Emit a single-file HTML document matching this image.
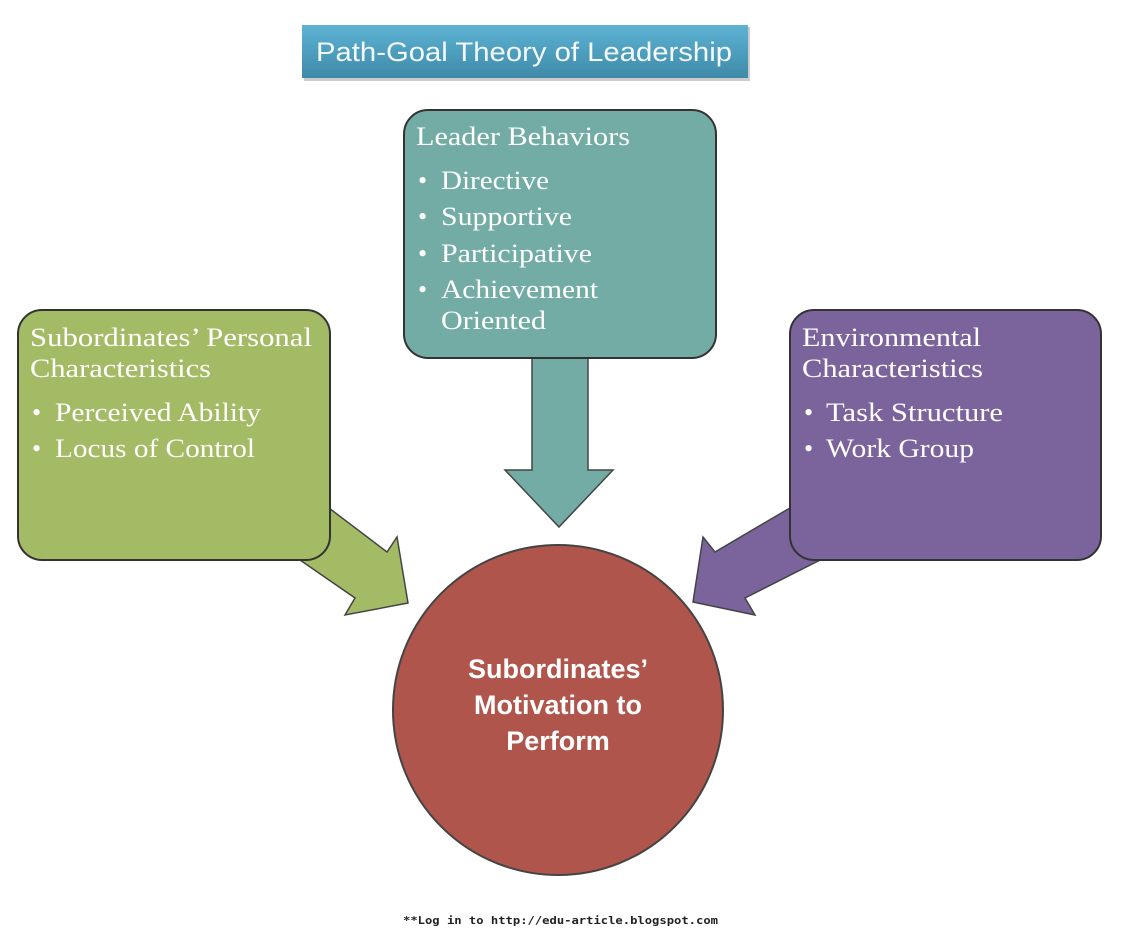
<!DOCTYPE html>
<html><head><meta charset="utf-8"><style>
html,body{margin:0;padding:0;background:#fff;width:1122px;height:940px;overflow:hidden}
svg{display:block}
.t{font-family:"Liberation Serif",serif;fill:#fff;font-size:26px}
</style></head><body>
<svg width="1122" height="940" viewBox="0 0 1122 940" xmlns="http://www.w3.org/2000/svg">
<defs>
<linearGradient id="tg" x1="0" y1="0" x2="0" y2="1"><stop offset="0" stop-color="#5db3d4"/><stop offset="1" stop-color="#3f8aa8"/></linearGradient>
</defs>
<rect x="304" y="27" width="446" height="54" fill="#ccc"/>
<rect x="302" y="25" width="446" height="53" fill="url(#tg)"/>
<text x="316" y="61" textLength="416" lengthAdjust="spacingAndGlyphs" font-family="Liberation Sans,sans-serif" font-size="27" fill="#f4f8fa">Path-Goal Theory of Leadership</text>

<path d="M532 356 L588 356 L588 470 L613 470 L559 527 L505 470 L532 470 Z" fill="#72aca4" stroke="#444" stroke-width="1.5"/>
<path d="M325 505 L387 552 L397 537 L408 603 L345 615 L355 598 L300 560 Z" fill="#a4bb65" stroke="#444" stroke-width="1.5"/>
<path d="M795 505 L715 552 L703 537 L693 602 L755 615 L745 598 L820 560 Z" fill="#7b639c" stroke="#444" stroke-width="1.5"/>

<rect x="404" y="110" width="312" height="248" rx="24" fill="#72aca4" stroke="#333" stroke-width="2"/>
<rect x="18" y="310" width="312" height="250" rx="24" fill="#a4bb65" stroke="#333" stroke-width="2"/>
<rect x="790" y="310" width="311" height="250" rx="24" fill="#7b639c" stroke="#333" stroke-width="2"/>

<g class="t">
<text class="t" x="416" y="145" textLength="214" lengthAdjust="spacingAndGlyphs">Leader Behaviors</text>
<text class="t" x="418" y="189">•</text><text class="t" x="441" y="189" textLength="108" lengthAdjust="spacingAndGlyphs">Directive</text>
<text class="t" x="418" y="225">•</text><text class="t" x="441" y="225" textLength="131" lengthAdjust="spacingAndGlyphs">Supportive</text>
<text class="t" x="418" y="262">•</text><text class="t" x="441" y="262" textLength="151" lengthAdjust="spacingAndGlyphs">Participative</text>
<text class="t" x="418" y="298">•</text><text class="t" x="441" y="298" textLength="157" lengthAdjust="spacingAndGlyphs">Achievement</text>
<text class="t" x="441" y="329" textLength="105" lengthAdjust="spacingAndGlyphs">Oriented</text>

<text class="t" x="30" y="346" textLength="282" lengthAdjust="spacingAndGlyphs">Subordinates’ Personal</text>
<text class="t" x="30" y="377" textLength="181" lengthAdjust="spacingAndGlyphs">Characteristics</text>
<text class="t" x="32" y="421">•</text><text class="t" x="55" y="421" textLength="206" lengthAdjust="spacingAndGlyphs">Perceived Ability</text>
<text class="t" x="32" y="457">•</text><text class="t" x="55" y="457" textLength="200" lengthAdjust="spacingAndGlyphs">Locus of Control</text>

<text class="t" x="802" y="346" textLength="179" lengthAdjust="spacingAndGlyphs">Environmental</text>
<text class="t" x="802" y="377" textLength="181" lengthAdjust="spacingAndGlyphs">Characteristics</text>
<text class="t" x="804" y="421">•</text><text class="t" x="826" y="421" textLength="177" lengthAdjust="spacingAndGlyphs">Task Structure</text>
<text class="t" x="804" y="457">•</text><text class="t" x="826" y="457" textLength="148" lengthAdjust="spacingAndGlyphs">Work Group</text>
</g>

<circle cx="558" cy="710" r="165" fill="#b0554c" stroke="#444" stroke-width="2"/>
<g font-family="Liberation Sans,sans-serif" font-weight="bold" font-size="27" fill="#fff" text-anchor="middle">
<text x="558" y="678">Subordinates’</text>
<text x="558" y="714">Motivation to</text>
<text x="558" y="750">Perform</text>
</g>
<text x="403" y="924" textLength="315" lengthAdjust="spacingAndGlyphs" font-family="DejaVu Sans Mono,monospace" font-weight="bold" font-size="11" fill="#222">**Log in to http://edu-article.blogspot.com</text>
</svg>
</body></html>
